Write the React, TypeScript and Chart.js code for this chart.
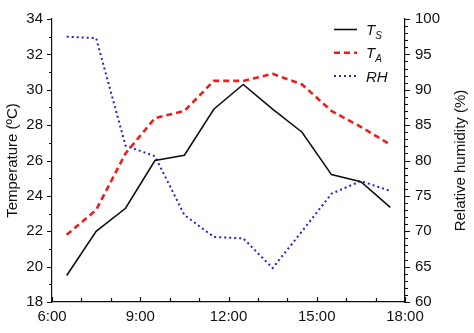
import React, { useEffect, useRef } from "react";
import { Chart, registerables } from "chart.js";

Chart.register(...registerables);

const hours = [6.5, 7.5, 8.5, 9.5, 10.5, 11.5, 12.5, 13.5, 14.5, 15.5, 16.5, 17.5];
const tsValues = [19.5, 22.0, 23.3, 26.0, 26.3, 28.9, 30.3, 28.9, 27.6, 25.2, 24.8, 23.35];
const taValues = [21.8, 23.2, 26.4, 28.4, 28.8, 30.5, 30.5, 30.9, 30.3, 28.8, 27.9, 26.9];
const rhValues = [97.5, 97.3, 82.1, 80.6, 72.3, 69.2, 69.0, 64.8, 70.0, 75.3, 77.1, 75.7];

const leftTitle = "Temperature (ºC)";
const rightTitle = "Relative humidity (%)";

const FONT = "'Liberation Sans', Arial, sans-serif";

const legendItems = [
  { main: "T", sub: "S", color: "#111111", dash: [] as number[], width: 1.6 },
  { main: "T", sub: "A", color: "#ee1c1c", dash: [6, 4], width: 2.6 },
  { main: "RH", sub: "", color: "#2323d0", dash: [2, 3], width: 2 },
];

const ticksPlugin = {
  id: "customTicks",
  afterDraw(chart: any) {
    const ctx = chart.ctx;
    const { left, right, bottom, top } = chart.chartArea;
    const xs = chart.scales.x;
    const yl = chart.scales.y;
    const yr = chart.scales.y1;
    ctx.save();
    ctx.strokeStyle = "#111";
    ctx.lineWidth = 1.2;
    ctx.beginPath();
    for (let v = 18; v <= 34; v += 1) {
      const p = Math.round(yl.getPixelForValue(v)) + 0.5;
      const len = v % 2 === 0 ? 5 : 3;
      ctx.moveTo(left, p);
      ctx.lineTo(left - len, p);
    }
    for (let v = 60; v <= 100; v += 1) {
      const p = Math.round(yr.getPixelForValue(v)) + 0.5;
      const len = v % 5 === 0 ? 5 : 3;
      ctx.moveTo(right, p);
      ctx.lineTo(right + len, p);
    }
    for (let v = 6; v <= 18; v += 1) {
      const p = Math.round(xs.getPixelForValue(v)) + 0.5;
      const len = v % 3 === 0 ? 5 : 4;
      ctx.moveTo(p, bottom);
      ctx.lineTo(p, bottom - len);
    }
    ctx.stroke();

    // axis titles (both read bottom-to-top)
    const cy = (top + bottom) / 2;
    ctx.fillStyle = "#111";
    ctx.font = `15px ${FONT}`;
    ctx.textAlign = "center";
    ctx.textBaseline = "middle";
    ctx.save();
    ctx.translate(12.5, cy);
    ctx.rotate(-Math.PI / 2);
    ctx.fillText(leftTitle, 0, 0);
    ctx.restore();
    ctx.save();
    ctx.translate(right + 56, cy);
    ctx.rotate(-Math.PI / 2);
    ctx.fillText(rightTitle, 0, 0);
    ctx.restore();

    // legend
    legendItems.forEach((it, i) => {
      const y = top + 10.5 + i * 23.3;
      ctx.beginPath();
      ctx.strokeStyle = it.color;
      ctx.lineWidth = it.width;
      ctx.setLineDash(it.dash);
      ctx.moveTo(right - 71, y);
      ctx.lineTo(right - 48, y);
      ctx.stroke();
      ctx.setLineDash([]);
      ctx.fillStyle = "#111";
      ctx.textBaseline = "alphabetic";
      ctx.textAlign = "left";
      ctx.font = `italic 15px ${FONT}`;
      const tx = right - 39;
      ctx.fillText(it.main, tx, y + 5.5);
      if (it.sub) {
        const w = ctx.measureText(it.main).width;
        ctx.font = `italic 10px ${FONT}`;
        ctx.fillText(it.sub, tx + w, y + 9);
      }
    });
    ctx.restore();
  },
};

export default function App() {
  const ref = useRef<HTMLCanvasElement>(null);
  useEffect(() => {
    document.body.style.margin = "0";
    const mk = (vals: number[]) => hours.map((h, i) => ({ x: h, y: vals[i] }));
    const chart = new Chart(ref.current!, {
      type: "line",
      data: {
        datasets: [
          {
            label: "TS",
            data: mk(tsValues),
            borderColor: "#111111",
            borderWidth: 1.6,
            pointRadius: 0,
            yAxisID: "y",
            tension: 0,
          },
          {
            label: "TA",
            data: mk(taValues),
            borderColor: "#ee1c1c",
            borderWidth: 2.6,
            borderDash: [6, 4],
            pointRadius: 0,
            yAxisID: "y",
            tension: 0,
          },
          {
            label: "RH",
            data: mk(rhValues),
            borderColor: "#2323d0",
            borderWidth: 2,
            borderDash: [2, 3],
            pointRadius: 0,
            yAxisID: "y1",
            tension: 0,
          },
        ],
      },
      options: {
        animation: false,
        responsive: false,
        maintainAspectRatio: false,
        layout: { padding: { top: 13, right: 0, left: 0, bottom: 0 } },
        plugins: { legend: { display: false }, tooltip: { enabled: false } },
        scales: {
          x: {
            type: "linear",
            min: 6,
            max: 18,
            grid: { display: false, drawTicks: false },
            border: { display: true, color: "#111", width: 1.2 },
            ticks: {
              stepSize: 3,
              padding: 6,
              color: "#111",
              font: { family: FONT, size: 15 },
              callback: (v: any) => `${v}:00`,
              maxRotation: 0,
            },
            afterFit: (s: any) => {
              s.height = 31;
            },
          },
          y: {
            type: "linear",
            position: "left",
            min: 18,
            max: 34,
            grid: { display: false, drawTicks: false },
            border: { display: true, color: "#111", width: 1.2 },
            ticks: {
              stepSize: 2,
              padding: 9,
              color: "#111",
              font: { family: FONT, size: 15 },
            },
            afterFit: (s: any) => {
              s.width = 52;
            },
          },
          y1: {
            type: "linear",
            position: "right",
            min: 60,
            max: 100,
            grid: { display: false, drawTicks: false },
            border: { display: true, color: "#111", width: 1.2 },
            ticks: {
              stepSize: 5,
              padding: 10,
              color: "#111",
              font: { family: FONT, size: 15 },
            },
            afterFit: (s: any) => {
              s.width = 69;
            },
          },
        },
      },
      plugins: [ticksPlugin],
    });
    return () => chart.destroy();
  }, []);
  return (
    <div style={{ width: 474, height: 333 }}>
      <canvas ref={ref} width={474} height={333} style={{ width: 474, height: 333 }} />
    </div>
  );
}
